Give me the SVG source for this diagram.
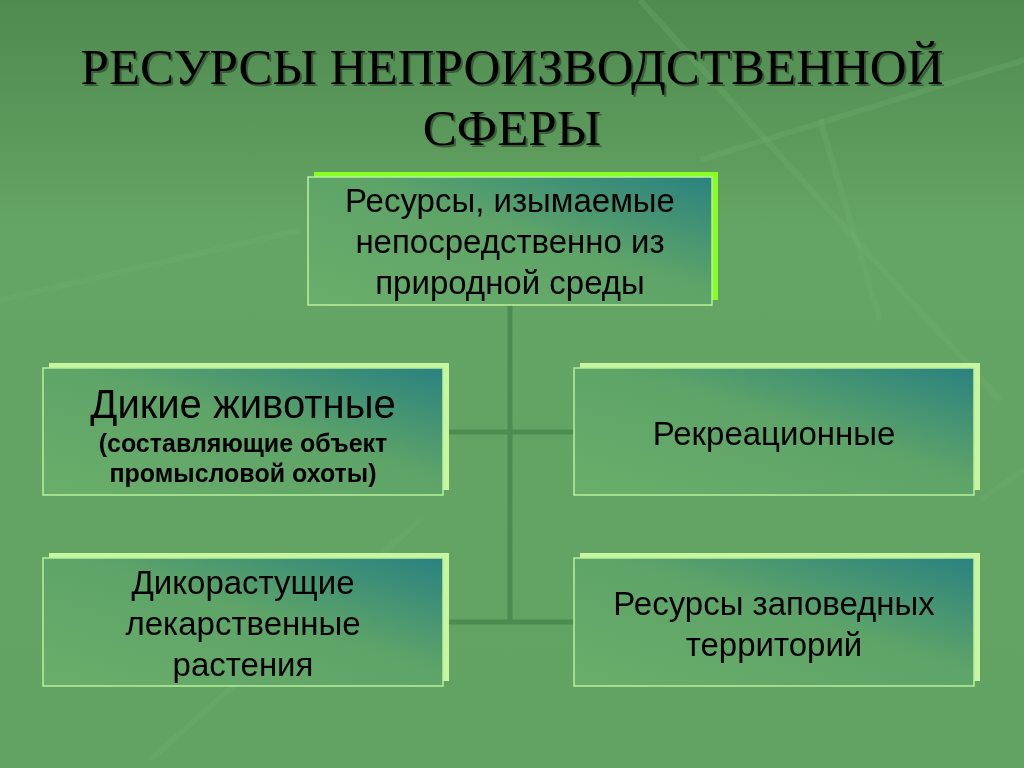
<svg xmlns="http://www.w3.org/2000/svg" width="1024" height="768" viewBox="0 0 1024 768">
<defs>
<linearGradient id="bg" x1="0" y1="0" x2="0" y2="1"><stop offset="0" stop-color="#4f8a4f"/><stop offset="0.3" stop-color="#64a464"/><stop offset="1" stop-color="#62a262"/></linearGradient>
<linearGradient id="box" x1="0" y1="1" x2="1" y2="0"><stop offset="0" stop-color="#6aae6a"/><stop offset="0.55" stop-color="#5ea468"/><stop offset="1" stop-color="#2a8280"/></linearGradient>
<style>
.bk{fill:#c8f5a0}
.bkt{fill:#88ff22}
.fr{fill:url(#box);stroke:#b8f09a;stroke-width:1.5}
.t{font-family:"Liberation Sans",Arial,sans-serif;font-size:33px;fill:#000;text-anchor:middle}
.big{font-size:40px}
.s{font-family:"Liberation Sans",Arial,sans-serif;font-size:25px;font-weight:bold;fill:#000;text-anchor:middle}
.ti{font-family:"Liberation Serif",serif;font-size:51px;text-anchor:middle}
.c{stroke:#4c8c50;stroke-width:5;fill:none}
.leaf{stroke:#72b272;stroke-width:6;fill:none;opacity:0.5}
</style>
</defs>
<rect width="1024" height="768" fill="url(#bg)"/>
<g opacity="0.6">
<path class="leaf" d="M640 0 L1000 400"/>
<path class="leaf" d="M820 120 L880 320"/>
<path class="leaf" d="M0 300 L300 230"/>
<path class="leaf" d="M700 160 L1024 60"/>
<path class="leaf" d="M150 760 L420 520"/>
<path class="leaf" d="M980 500 L1024 470"/>
</g>
<text class="ti" x="514" y="86" fill="#2a4a2a" opacity="0.7">РЕСУРСЫ НЕПРОИЗВОДСТВЕННОЙ</text>
<text class="ti" x="512" y="84" fill="#000">РЕСУРСЫ НЕПРОИЗВОДСТВЕННОЙ</text>
<text class="ti" x="514" y="147" fill="#2a4a2a" opacity="0.7">СФЕРЫ</text>
<text class="ti" x="512" y="145" fill="#000">СФЕРЫ</text>
<g id="connectors">
<path class="c" d="M510 305 V622"/>
<path class="c" d="M443 432 H574"/>
<path class="c" d="M443 622 H574"/>
</g>
<g id="top">
<rect class="bkt" x="314" y="172" width="404" height="128"/>
<rect class="fr" x="308" y="177" width="404" height="128"/>
<text class="t" x="510" y="212">Ресурсы, изымаемые</text>
<text class="t" x="510" y="253">непосредственно из</text>
<text class="t" x="510" y="294">природной среды</text>
</g>
<g id="animals">
<rect class="bk" x="49" y="363" width="400" height="127"/>
<rect class="fr" x="43" y="368" width="400" height="127"/>
<text class="t big" x="243" y="418">Дикие животные</text>
<text class="s" x="243" y="452">(составляющие объект</text>
<text class="s" x="243" y="482">промысловой охоты)</text>
</g>
<g id="recreation">
<rect class="bk" x="580" y="363" width="400" height="127"/>
<rect class="fr" x="574" y="368" width="400" height="127"/>
<text class="t" x="774" y="445">Рекреационные</text>
</g>
<g id="plants">
<rect class="bk" x="49" y="553" width="400" height="128"/>
<rect class="fr" x="43" y="558" width="400" height="128"/>
<text class="t" x="243" y="594">Дикорастущие</text>
<text class="t" x="243" y="635">лекарственные</text>
<text class="t" x="243" y="676">растения</text>
</g>
<g id="reserves">
<rect class="bk" x="580" y="553" width="400" height="128"/>
<rect class="fr" x="574" y="558" width="400" height="128"/>
<text class="t" x="774" y="615">Ресурсы заповедных</text>
<text class="t" x="774" y="656">территорий</text>
</g>
</svg>
